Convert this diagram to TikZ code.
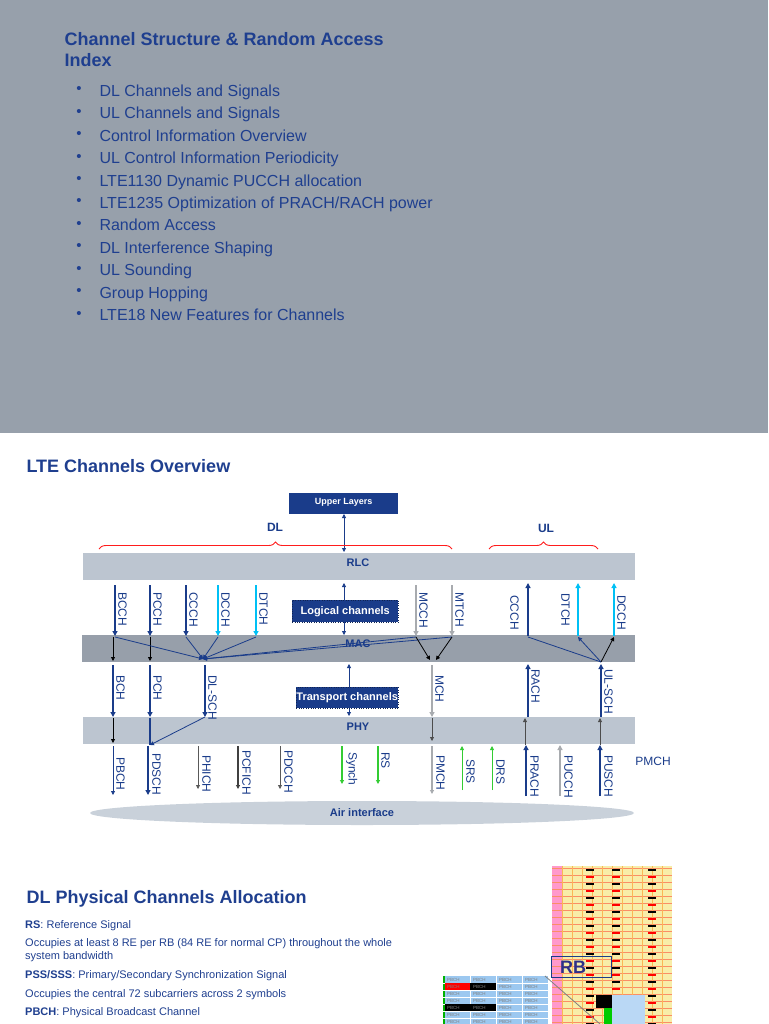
\documentclass[tikz,border=0pt]{standalone}
\usepackage{fontspec}
\setmainfont{Liberation Sans}
\usetikzlibrary{arrows.meta,decorations.pathreplacing,shapes.geometric}
\definecolor{tb}{HTML}{1F3F8F}
\definecolor{db}{HTML}{1A3C8A}
\definecolor{band}{HTML}{BCC5D0}
\definecolor{macc}{HTML}{979FAA}
\definecolor{topbg}{HTML}{97A0AB}
\definecolor{cy}{HTML}{00C0F5}
\definecolor{gr}{HTML}{A8ABAF}
\definecolor{grn}{HTML}{33CC33}
\definecolor{yel}{HTML}{F8EDA8}
\definecolor{lb}{HTML}{9CC8F0}
\begin{document}
\begin{tikzpicture}[x=1pt,y=-1pt,
 lab/.style={font=\fontsize{12}{12}\selectfont,text=db,rotate=-90,anchor=south west,inner sep=0pt},
 ar/.style={-{Triangle[length=5pt,width=5pt]},line width=1.6pt},
 tar/.style={-{Triangle[length=4pt,width=4pt]},line width=0.8pt},
 box/.style={fill=db,text=white,font=\bfseries\fontsize{11}{11}\selectfont,inner sep=0pt}]
\useasboundingbox (0,0) rectangle (768,1024);
\fill[topbg] (0,0) rectangle (768,433);
\node[anchor=north west,text=tb,font=\bfseries\fontsize{18}{21}\selectfont,align=left] (title) at (61,29) {Channel Structure \& Random Access\\Index};
\foreach \t [count=\i] in {DL Channels and Signals,UL Channels and Signals,Control Information Overview,UL Control Information Periodicity,LTE1130 Dynamic PUCCH allocation,LTE1235 Optimization of PRACH/RACH power,Random Access,DL Interference Shaping,UL Sounding,Group Hopping,LTE18 New Features for Channels}
 {\node[anchor=base west,text=tb,font=\fontsize{16}{16}\selectfont] (b\i) at (96,{96.5+22.4*(\i-1)}) {\t};
  \node[anchor=base,text=tb,font=\fontsize{15}{15}\selectfont] (d\i) at (79,{94+22.4*(\i-1)}) {\textbullet};}
\node[anchor=west,text=tb,font=\bfseries\fontsize{18}{18}\selectfont] (t2) at (23,466) {LTE Channels Overview};
% bands
\fill[band] (83,553) rectangle (635,580);
\fill[macc] (82,635) rectangle (635,662);
\fill[band] (83,717) rectangle (635,744);
\fill[band!80!white] (362,813) ellipse (272 and 12);
\node[text=db,font=\bfseries\fontsize{11}{11}\selectfont] (rlc) at (358,563) {RLC};
\node[text=db,font=\bfseries\fontsize{11}{11}\selectfont] (mac) at (358,644) {MAC};
\node[text=db,font=\bfseries\fontsize{11}{11}\selectfont] (phy) at (358,727) {PHY};
\node[text=db,font=\bfseries\fontsize{11}{11}\selectfont] (air) at (362,813) {Air interface};
\draw[db,{Triangle[length=4pt,width=4pt]}-{Triangle[length=4pt,width=4pt]},line width=0.8pt] (344,514) -- (344,552);
\draw[db,{Triangle[length=4pt,width=4pt]}-{Triangle[length=4pt,width=4pt]},line width=0.8pt] (344,583) -- (344,635);
\draw[db,{Triangle[length=4pt,width=4pt]}-{Triangle[length=4pt,width=4pt]},line width=0.8pt] (349,664) -- (349,716);
\node[box,minimum width=109pt,minimum height=21pt,font=\bfseries\fontsize{9}{9}\selectfont,anchor=north west] (ul) at (289,493) {\raisebox{4pt}{Upper Layers}};
\node[box,minimum width=106pt,minimum height=22pt,anchor=north west,draw=db!60!black,dotted] (lc) at (292,600) {Logical channels};
\node[box,minimum width=102pt,minimum height=21pt,anchor=north west,draw=db!60!black,dotted] (tc) at (296,687) {Transport channels};
% braces
\draw[red!85!pink,line width=0.9pt,decorate,decoration={brace,amplitude=7pt}] (99,549) -- (452,549);
\draw[red!85!pink,line width=0.9pt,decorate,decoration={brace,amplitude=7pt}] (489,549) -- (598,549);
\node[text=db,font=\bfseries\fontsize{12}{12}\selectfont] (dl) at (275,527) {DL};
\node[text=db,font=\bfseries\fontsize{12}{12}\selectfont] (ulb) at (546,528) {UL};
% logical DL
\foreach \x/\c/\n in {115/db/BCCH,150/db/PCCH,186/db/CCCH,218/cy/DCCH,256/cy/DTCH,416/gr/MCCH,452/gr/MTCH}
 {\draw[ar,\c] (\x,585) -- (\x,636); \node[lab] at (\x+3,592) {\n};}
\draw[ar,db] (528,636) -- (528,583); \node[lab] at (510,595) {CCCH};
\draw[ar,cy] (578,636) -- (578,583); \node[lab] at (561,593) {DTCH};
\draw[ar,cy] (614,636) -- (614,583); \node[lab] at (617,595) {DCCH};
% MAC internals
\draw[tar,black] (113,637) -- (113,661);
\draw[tar,black] (150,637) -- (150,661);
\foreach \x in {115,186,218,256,416,452} \draw[db,line width=0.8pt,-{Triangle[length=4pt,width=4pt]}] (\x,637) -- (203,659);
\draw[tar,black] (416,637) -- (430,660);
\draw[tar,black] (452,637) -- (436,660);
\draw[db,line width=0.8pt] (528,637) -- (601,662);
\draw[db,line width=0.8pt,-{Triangle[length=4pt,width=4pt]}] (601,662) -- (578,637);
\draw[tar,black] (601,662) -- (614,637);
% transport
\foreach \x/\c/\n in {113/db/BCH,150/db/PCH,205/db/DL-SCH,432/gr/MCH}
 {\draw[ar,\c] (\x,665) -- (\x,717); \node[lab] at (\x+3,675) {\n};}
\foreach \x/\n in {528/RACH,601/UL-SCH}
 {\draw[ar,db] (\x,717) -- (\x,664); \node[lab] at (\x+3,669) {\n};}
% PHY internals
\draw[tar,black] (113,718) -- (113,743);
\draw[db,line width=1.2pt] (150,718) -- (150,745);
\draw[db,line width=0.8pt,-{Triangle[length=4pt,width=4pt]}] (205,717) -- (150,745);
\draw[tar,black!70] (432,718) -- (432,741);
\draw[tar,black!70] (525,745) -- (525,718);
\draw[tar,black!70] (600,745) -- (600,718);
% physical
\draw[tar,db] (113,746) -- (113,795); \node[lab] at (116,757) {PBCH};
\draw[ar,db] (148,746) -- (148,795); \node[lab] at (152,753) {PDSCH};
\draw[tar,black!65] (198,746) -- (198,789); \node[lab] at (202,755) {PHICH};
\draw[tar,black!75,line width=1.2pt] (238,746) -- (238,789); \node[lab] at (242,750) {PCFICH};
\draw[tar,black!65] (280,746) -- (280,789); \node[lab] at (284,750) {PDCCH};
\draw[tar,grn,line width=1.2pt] (342,746) -- (342,784); \node[lab] at (346,752) {Synch};
\draw[tar,grn,line width=1.2pt] (378,746) -- (378,784); \node[lab] at (381,752) {RS};
\draw[tar,gr,line width=1.2pt] (432,746) -- (432,794); \node[lab] at (436,755) {PMCH};
\draw[tar,grn] (462,790) -- (462,746); \node[lab] at (466,759) {SRS};
\draw[tar,grn] (492,790) -- (492,746); \node[lab] at (496,759) {DRS};
\draw[ar,db] (526,796) -- (526,745); \node[lab] at (530,755) {PRACH};
\draw[ar,gr] (560,796) -- (560,745); \node[lab] at (564,755) {PUCCH};
\draw[ar,db] (600,796) -- (600,745); \node[lab] at (604,755) {PUSCH};
\node[text=db,font=\fontsize{12}{12}\selectfont] (pmch) at (653,761) {PMCH};
% bottom text
\node[anchor=west,text=tb,font=\bfseries\fontsize{18}{18}\selectfont] (t3) at (23,899) {DL Physical Channels Allocation};
\begin{scope}[every node/.style={anchor=west,text=tb,font=\fontsize{11}{13}\selectfont,inner sep=0pt}]
\node (r1) at (25,926) {\textbf{RS}: Reference Signal};
\node[anchor=north west,align=left] (r2) at (25,938) {Occupies at least 8 RE per RB (84 RE for normal CP) throughout the whole\\system bandwidth};
\node (r3) at (25,976) {\textbf{PSS/SSS}: Primary/Secondary Synchronization Signal};
\node (r4) at (25,995) {Occupies the central 72 subcarriers across 2 symbols};
\node (r5) at (25,1013) {\textbf{PBCH}: Physical Broadcast Channel};
\end{scope}
% grid image
\fill[yel] (552,866) rectangle (672,1024);
\fill[pink!80!magenta] (552,866) rectangle (562,1024);
\foreach \y in {868,875,...,1024} {\draw[red!40!yel,line width=0.3pt] (552,\y) -- (672,\y);}
\foreach \x in {562,572,582,592,602,612,622,632,642,652,662} \draw[orange!50!yel,line width=0.3pt] (\x,866) -- (\x,1024);
\foreach \y [count=\k] in {869,876,...,1024} {
 \pgfmathsetmacro{\cc}{mod(\k,2)==0?"red":"black"}
 \fill[\cc] (586,\y) rectangle (594,\y+1.8);
 \fill[\cc] (612,\y) rectangle (620,\y+1.8);
 \fill[\cc] (648,\y) rectangle (656,\y+1.8);}
\fill[black] (596,995) rectangle (612,1008);
\fill[green!80!black] (604,1008) rectangle (612,1024);
\fill[lb!70!white] (612,995) rectangle (645,1024);
\fill[lb] (443,976) rectangle (548,1024);
\fill[green!70!black] (443,976) rectangle (445,1024);
\foreach \y in {983,990,...,1024} \draw[white] (443,\y) -- (548,\y);
\foreach \x in {470,496,522} \draw[white] (\x,976) -- (\x,1024);
\fill[red] (445,983) rectangle (470,990);
\fill[black] (470,983) rectangle (496,990);
\fill[black] (445,1004) rectangle (496,1011);
\foreach \y in {979.5,986.5,...,1024} \foreach \x in {447,473,499,525}
 \node[anchor=west,inner sep=0pt,text=gray,font=\fontsize{4.5}{4.5}\selectfont] at (\x,\y) {PBCH};
\draw[gray,line width=0.8pt] (545,976) -- (600,1024);
\draw[db,line width=1pt] (551,956) rectangle (611,977);
\node[text=db!80!violet,font=\bfseries\fontsize{18}{18}\selectfont] (rb) at (573,967) {RB};
\end{tikzpicture}
\end{document}
